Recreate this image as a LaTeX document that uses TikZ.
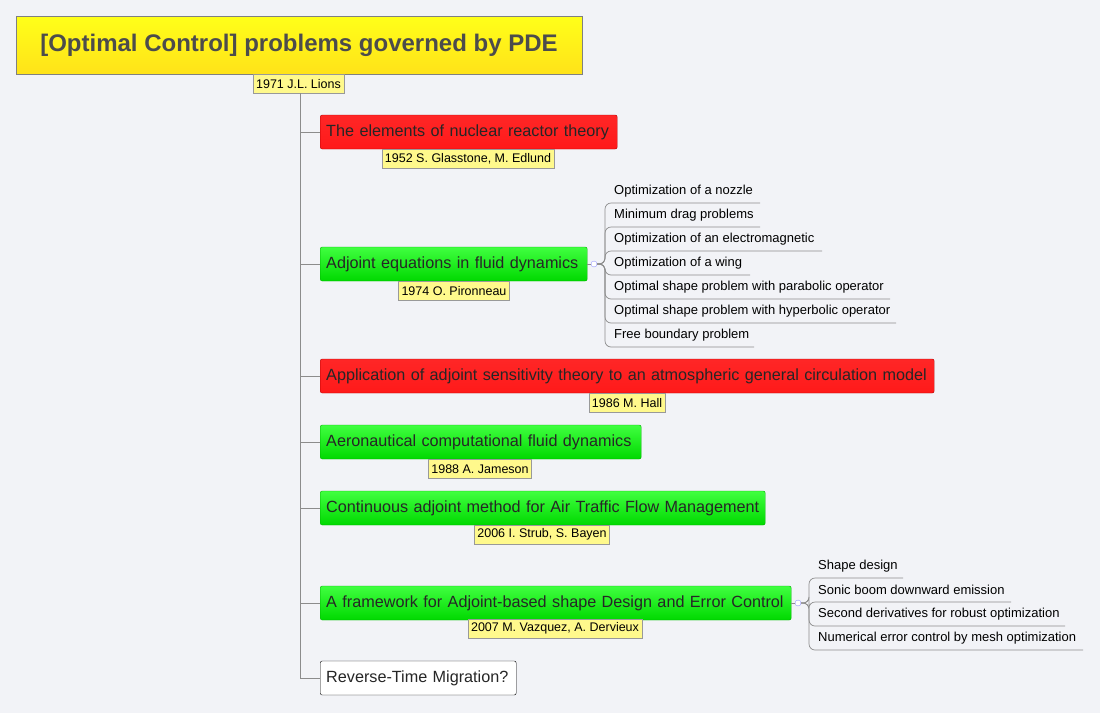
\documentclass[tikz,border=0pt]{standalone}
\usepackage{fontspec}
\setmainfont{Liberation Sans}
\begin{document}
\begin{tikzpicture}[x=1pt,y=-1pt,
  topic/.style={draw=#1!70!black,rounded corners=2pt,minimum height=34pt,inner xsep=6pt,anchor=west,align=left,font=\fontsize{16.2}{18}\selectfont,text=black!85},
  red/.style={topic=red,top color=red!85,bottom color=red!100!black!90},
  grn/.style={topic=green,top color=green!75!white,bottom color=green!85!black},
  note/.style={draw=black!40,fill=yellow!45,inner xsep=3pt,inner ysep=2pt,anchor=north,minimum height=19pt,font=\fontsize{12.5}{14}\selectfont},
  sub/.style={anchor=west,font=\fontsize{13}{15}\selectfont,inner sep=0pt},
  ln/.style={draw=black!45,line width=0.7pt},
  col/.style={circle,draw=blue!40,fill=white,inner sep=0pt,minimum size=6pt}]
\useasboundingbox[fill={rgb,255:red,242;green,243;blue,247}] (0,0) rectangle (1100,713);
\node[draw=black!50,top color=yellow!90,bottom color=yellow!75!orange!90,minimum width=566pt,minimum height=58pt,font=\bfseries\fontsize{24}{27}\selectfont,text=black!70] (root) at (299,45) {[Optimal Control] problems governed by PDE};
\node[note] (rn) at (298.5,74) {1971 J.L. Lions};
\node[red,text width=285pt] (t1) at (320,132) {\mbox{The elements of nuclear reactor theory}};
\node[grn,text width=255pt] (t2) at (320,264) {\mbox{Adjoint equations in fluid dynamics}};
\node[red,text width=602pt] (t3) at (320,376) {\mbox{Application of adjoint sensitivity theory to an atmospheric general circulation model}};
\node[grn,text width=309pt] (t4) at (320,442) {\mbox{Aeronautical computational fluid dynamics}};
\node[grn,text width=433pt] (t5) at (320,508) {\mbox{Continuous adjoint method for Air Traffic Flow Management}};
\node[grn,text width=459pt] (t6) at (320,603) {\mbox{A framework for Adjoint-based shape Design and Error Control}};
\node[topic=black,fill=white,text width=184pt] (t7) at (320,678) {\mbox{Reverse-Time Migration?}};
\node[note] at (468,149) {1952 S. Glasstone, M. Edlund};
\node[note] at (454,281) {1974 O. Pironneau};
\node[note] at (627,393) {1986 M. Hall};
\node[note] at (480,459) {1988 A. Jameson};
\node[note] at (542,525) {2006 I. Strub, S. Bayen};
\node[note] at (555,619) {2007 M. Vazquez, A. Dervieux};
\coordinate (v) at (300,93);
\draw[ln] (v) -- (300,678) -- (t7.west);
\foreach \n in {t1,t2,t3,t4,t5,t6} \draw[ln] (\n.west -| v) -- (\n.west);
\node[col] (c2) at (594,264) {};
\draw[ln] (t2.east) -- (c2);
\foreach \y/\e/\t [count=\i] in {191/760/Optimization of a nozzle,215/760/Minimum drag problems,239/822/Optimization of an electromagnetic,263/750/Optimization of a wing,287/890/Optimal shape problem with parabolic operator,311/896/Optimal shape problem with hyperbolic operator,335/754/Free boundary problem}{
  \node[sub] (s\i) at (614,\y) {\t};
  \coordinate (u\i) at (\e,\y+12);
  \draw[ln,rounded corners=6pt] (c2.east) -- (605,264) -- (605,\y+12) -- (u\i);
}
\node[col] (c6) at (798,603) {};
\draw[ln] (t6.east) -- (c6);
\foreach \y/\e/\t [count=\i] in {566/903/Shape design,590/1011/Sonic boom downward emission,614/1065/Second derivatives for robust optimization,638/1083/Numerical error control by mesh optimization}{
  \node[sub] (r\i) at (818,\y) {\t};
  \coordinate (w\i) at (\e,\y+12);
  \draw[ln,rounded corners=6pt] (c6.east) -- (809,603) -- (809,\y+12) -- (w\i);
}
\end{tikzpicture}
\end{document}
